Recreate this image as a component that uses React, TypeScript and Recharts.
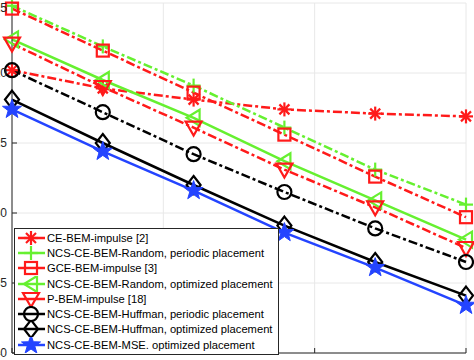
import React from "react";
import { CartesianGrid, Line, LineChart, XAxis, YAxis } from "recharts";

const X_VALUES = [0, 6, 12, 18, 24, 30];
const X_TICKS = [0, 10, 20, 30];
const Y_TICKS = [-40, -35, -30, -25, -20, -15];

const CE_BEM_IMPULSE = [-19.8, -21.1, -21.9, -22.6, -22.9, -23.1];
const NCS_RANDOM_PERIODIC = [-15.2, -18.1, -20.9, -23.9, -26.9, -29.4];
const GCE_BEM_IMPULSE = [-15.4, -18.4, -21.4, -24.4, -27.4, -30.3];
const NCS_RANDOM_OPT = [-17.6, -20.5, -23.2, -26.3, -29.1, -31.9];
const P_BEM_IMPULSE = [-17.9, -21.0, -23.9, -26.9, -29.6, -32.5];
const NCS_HUFFMAN_PERIODIC = [-19.8, -22.8, -25.8, -28.5, -31.1, -33.5];
const NCS_HUFFMAN_OPT = [-21.9, -25.0, -28.0, -30.9, -33.5, -35.9];
const NCS_MSE_OPT = [-22.6, -25.6, -28.4, -31.4, -33.9, -36.6];

const RED = "#ff1a1a";
const GREEN = "#66f030";
const BLUE = "#2444ff";
const DASHDOT = "9 3 3 3";

type Shape = "asterisk" | "plus" | "square" | "left" | "down" | "circle" | "diamond" | "star";

const SERIES: { key: string; name: string; values: number[]; color: string; dash?: string; shape: Shape }[] = [
  { key: "ce", name: "CE-BEM-impulse [2]", values: CE_BEM_IMPULSE, color: RED, dash: DASHDOT, shape: "asterisk" },
  { key: "nrp", name: "NCS-CE-BEM-Random, periodic placement", values: NCS_RANDOM_PERIODIC, color: GREEN, dash: DASHDOT, shape: "plus" },
  { key: "gce", name: "GCE-BEM-impulse [3]", values: GCE_BEM_IMPULSE, color: RED, dash: DASHDOT, shape: "square" },
  { key: "nro", name: "NCS-CE-BEM-Random, optimized placement", values: NCS_RANDOM_OPT, color: GREEN, shape: "left" },
  { key: "pbem", name: "P-BEM-impulse [18]", values: P_BEM_IMPULSE, color: RED, dash: DASHDOT, shape: "down" },
  { key: "nhp", name: "NCS-CE-BEM-Huffman, periodic placement", values: NCS_HUFFMAN_PERIODIC, color: "#000", dash: DASHDOT, shape: "circle" },
  { key: "nho", name: "NCS-CE-BEM-Huffman, optimized placement", values: NCS_HUFFMAN_OPT, color: "#000", shape: "diamond" },
  { key: "mse", name: "NCS-CE-BEM-MSE. optimized placement", values: NCS_MSE_OPT, color: BLUE, shape: "star" },
];

const data = X_VALUES.map((x, i) => {
  const row: Record<string, number> = { x };
  SERIES.forEach((s) => (row[s.key] = s.values[i]));
  return row;
});

function Marker({ cx, cy, shape, color }: { cx: number; cy: number; shape: Shape; color: string }) {
  const sw = 2.2;
  switch (shape) {
    case "asterisk": {
      const r = 7, d = 5;
      return (
        <g stroke={color} strokeWidth={sw}>
          <line x1={cx - r} y1={cy} x2={cx + r} y2={cy} />
          <line x1={cx} y1={cy - r} x2={cx} y2={cy + r} />
          <line x1={cx - d} y1={cy - d} x2={cx + d} y2={cy + d} />
          <line x1={cx - d} y1={cy + d} x2={cx + d} y2={cy - d} />
        </g>
      );
    }
    case "plus": {
      const r = 7;
      return (
        <g stroke={color} strokeWidth={sw}>
          <line x1={cx - r} y1={cy} x2={cx + r} y2={cy} />
          <line x1={cx} y1={cy - r} x2={cx} y2={cy + r} />
        </g>
      );
    }
    case "square":
      return <rect x={cx - 6} y={cy - 6} width={12} height={12} fill="none" stroke={color} strokeWidth={sw} />;
    case "left":
      return <polygon points={`${cx - 7},${cy} ${cx + 6},${cy - 8} ${cx + 6},${cy + 8}`} fill="none" stroke={color} strokeWidth={sw} />;
    case "down":
      return <polygon points={`${cx - 8},${cy - 6} ${cx + 8},${cy - 6} ${cx},${cy + 8}`} fill="none" stroke={color} strokeWidth={sw} />;
    case "circle":
      return <circle cx={cx} cy={cy} r={7} fill="none" stroke={color} strokeWidth={sw} />;
    case "diamond":
      return <polygon points={`${cx},${cy - 9} ${cx + 7},${cy} ${cx},${cy + 9} ${cx - 7},${cy}`} fill="none" stroke={color} strokeWidth={sw} />;
    case "star": {
      const pts: string[] = [];
      for (let k = 0; k < 10; k++) {
        const r = k % 2 === 0 ? 10 : 4;
        const a = -Math.PI / 2 + (k * Math.PI) / 5;
        pts.push(`${cx + r * Math.cos(a)},${cy + r * Math.sin(a)}`);
      }
      return <polygon points={pts.join(" ")} fill={color} stroke={color} strokeWidth={1} />;
    }
  }
  return null;
}

function LegendBox() {
  return (
    <div
      style={{
        position: "absolute",
        left: 14,
        top: 228,
        border: "1px solid #262626",
        background: "#fff",
        width: 263,
        padding: "1px 0 2px 0",
        fontFamily: "'Liberation Sans', Arial, sans-serif",
        fontSize: 11.2,
        color: "#000",
      }}
    >
      {SERIES.map((s) => (
        <div key={s.key} style={{ display: "flex", alignItems: "center", height: 15.3 }}>
          <svg width={32} height={16} style={{ flex: "none" }}>
            <line x1={3} y1={8} x2={30} y2={8} stroke={s.color} strokeWidth={2.5} />
            <Marker cx={16} cy={8} shape={s.shape} color={s.color} />
          </svg>
          <span style={{ whiteSpace: "nowrap" }}>{s.name}</span>
        </div>
      ))}
    </div>
  );
}

const tickStyle = { fontSize: 12, fill: "#262626", fontFamily: "'Liberation Sans', Arial, sans-serif" };
const emptyTick = () => <g />;

export default function App() {
  return (
    <div style={{ position: "fixed", left: 0, top: 0, width: 474, height: 360, overflow: "hidden", background: "#fff" }}>
      <div style={{ position: "absolute", left: -38, top: 0 }}>
        <LineChart width={512} height={383} data={data} margin={{ top: 3, right: 8, bottom: 0, left: 0 }}>
          <CartesianGrid stroke="#e8e8e8" strokeWidth={1} />
          <XAxis
            dataKey="x"
            type="number"
            domain={[0, 30]}
            ticks={X_TICKS}
            height={30}
            stroke="#262626"
            tickSize={-5}
            tick={emptyTick}
          />
          <XAxis
            xAxisId="top"
            dataKey="x"
            type="number"
            orientation="top"
            domain={[0, 30]}
            ticks={X_TICKS}
            height={0}
            stroke="#262626"
            tickSize={-5}
            tick={emptyTick}
          />
          <YAxis
            type="number"
            domain={[-40, -15]}
            ticks={Y_TICKS}
            width={50}
            stroke="#262626"
            tickSize={-5}
            tickMargin={10}
            tick={tickStyle}
          />
          <YAxis
            yAxisId="right"
            orientation="right"
            type="number"
            domain={[-40, -15]}
            ticks={Y_TICKS}
            width={0}
            stroke="#262626"
            tickSize={-5}
            tick={emptyTick}
          />
          {SERIES.map((s) => (
            <Line
              key={s.key}
              dataKey={s.key}
              name={s.name}
              stroke={s.color}
              strokeWidth={2.5}
              strokeDasharray={s.dash}
              isAnimationActive={false}
              dot={(p: any) => <Marker key={`${s.key}-${p.index}`} cx={p.cx} cy={p.cy} shape={s.shape} color={s.color} />}
            />
          ))}
        </LineChart>
      </div>
      <LegendBox />
    </div>
  );
}
